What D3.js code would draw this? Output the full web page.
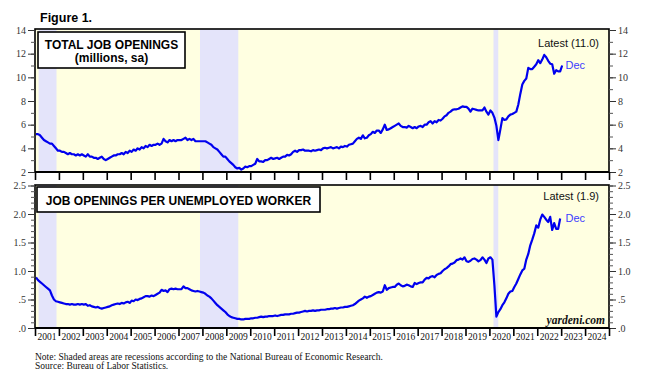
<!DOCTYPE html>
<html>
<head>
<meta charset="utf-8">
<script src="https://cdn.jsdelivr.net/npm/d3@7"></script>
<style>
  html, body { margin: 0; padding: 0; background: #ffffff; }
  svg { display: block; }
</style>
</head>
<body>
<svg id="chart" width="646" height="379"></svg>
<script>
// ---------------- DATA ----------------
// Monthly, Dec 2000 .. Dec 2022
const firstMonth = { year: 2000, month: 11 }; // December 2000 (0-based month)

// Total job openings, millions, sa
const openingsMillions = [
  5.2,
  5.2, 5.1, 4.9, 4.7, 4.6, 4.5, 4.4, 4.4, 4.2, 4.0, 3.8, 3.8,      // 2001
  3.7, 3.7, 3.6, 3.5, 3.6, 3.5, 3.5, 3.4, 3.5, 3.4, 3.5, 3.4,      // 2002
  3.3, 3.5, 3.3, 3.3, 3.2, 3.2, 3.1, 3.2, 3.3, 3.1, 3.0, 3.1,      // 2003
  3.2, 3.3, 3.4, 3.4, 3.5, 3.5, 3.6, 3.5, 3.7, 3.6, 3.8, 3.7,      // 2004
  3.9, 3.8, 4.0, 3.9, 4.1, 4.0, 4.2, 4.1, 4.3, 4.2, 4.3, 4.3,      // 2005
  4.4, 4.3, 4.4, 4.8, 4.6, 4.5, 4.7, 4.6, 4.7, 4.6, 4.7, 4.7,      // 2006
  4.7, 4.8, 4.9, 4.7, 4.8, 4.7, 4.8, 4.6, 4.6, 4.6, 4.6, 4.6,      // 2007
  4.6, 4.5, 4.4, 4.3, 4.1, 4.0, 3.9, 3.7, 3.5, 3.3, 3.3, 3.1,      // 2008
  2.9, 2.75, 2.6, 2.4, 2.3, 2.35, 2.2, 2.3, 2.45, 2.4, 2.5, 2.5,   // 2009
  2.6, 2.7, 3.1, 2.9, 2.9, 2.85, 3.0, 3.0, 3.1, 3.2, 3.1, 3.15,    // 2010
  3.2, 3.1, 3.2, 3.3, 3.3, 3.45, 3.4, 3.5, 3.7, 3.8, 3.7, 3.85,    // 2011
  3.85, 3.9, 3.8, 3.8, 3.8, 3.75, 3.85, 3.8, 3.85, 3.9, 3.85, 4.0, // 2012
  4.05, 4.0, 4.05, 4.1, 4.0, 4.05, 4.1, 4.0, 4.15, 4.1, 4.2, 4.15, // 2013
  4.3, 4.35, 4.4, 4.6, 4.8, 4.9, 4.8, 5.1, 4.85, 4.9, 5.1, 5.2,    // 2014
  5.4, 5.3, 5.5, 5.5, 5.3, 5.6, 6.0, 5.55, 5.6, 5.7, 5.8, 5.9,     // 2015
  6.0, 6.1, 5.9, 5.8, 5.8, 5.75, 5.9, 5.8, 5.7, 5.8, 5.7, 5.85,    // 2016
  5.9, 5.8, 6.0, 6.0, 6.2, 6.3, 6.1, 6.3, 6.2, 6.4, 6.35, 6.5,     // 2017
  6.7, 6.8, 7.0, 7.1, 7.25, 7.3, 7.3, 7.35, 7.45, 7.55, 7.5, 7.5,  // 2018
  7.35, 7.1, 7.35, 7.3, 7.25, 7.2, 7.2, 7.2, 7.45, 7.1, 6.85, 7.2, // 2019
  7.0, 6.6, 5.9, 4.7, 5.6, 6.55, 6.4, 6.45, 6.7, 6.85, 6.9, 7.0,   // 2020
  7.1, 7.7, 8.6, 9.4, 9.7, 9.9, 10.8, 10.7, 10.7, 10.9, 11.1, 11.45, // 2021
  11.2, 11.5, 11.9, 11.7, 11.4, 11.15, 11.1, 10.3, 10.6, 10.5, 10.5, 11.0 // 2022
];

// Job openings per unemployed worker
const openingsPerUnemployed = [
  0.89,
  0.84, 0.81, 0.78, 0.75, 0.72, 0.69, 0.66, 0.57, 0.50, 0.47, 0.46, 0.45, // 2001
  0.44, 0.43, 0.42, 0.42, 0.41, 0.42, 0.41, 0.41, 0.42, 0.41, 0.42, 0.41, // 2002
  0.42, 0.39, 0.40, 0.38, 0.37, 0.36, 0.37, 0.35, 0.34, 0.35, 0.36, 0.37, // 2003
  0.38, 0.40, 0.41, 0.42, 0.43, 0.42, 0.44, 0.43, 0.45, 0.46, 0.44, 0.48, // 2004
  0.47, 0.50, 0.49, 0.51, 0.52, 0.54, 0.56, 0.56, 0.55, 0.57, 0.56, 0.58, // 2005
  0.60, 0.62, 0.67, 0.65, 0.66, 0.63, 0.68, 0.69, 0.68, 0.69, 0.68, 0.68, // 2006
  0.68, 0.73, 0.70, 0.70, 0.68, 0.66, 0.65, 0.64, 0.65, 0.64, 0.63, 0.62, // 2007
  0.60, 0.57, 0.55, 0.52, 0.48, 0.44, 0.40, 0.37, 0.34, 0.31, 0.28, 0.24, // 2008
  0.21, 0.19, 0.18, 0.17, 0.16, 0.16, 0.15, 0.15, 0.16, 0.16, 0.16, 0.17, // 2009
  0.17, 0.18, 0.18, 0.19, 0.20, 0.19, 0.20, 0.20, 0.21, 0.21, 0.21, 0.22, // 2010
  0.21, 0.22, 0.23, 0.23, 0.24, 0.24, 0.24, 0.25, 0.25, 0.26, 0.27, 0.27, // 2011
  0.28, 0.29, 0.30, 0.29, 0.30, 0.30, 0.31, 0.30, 0.31, 0.31, 0.32, 0.32, // 2012
  0.32, 0.33, 0.33, 0.34, 0.34, 0.35, 0.34, 0.35, 0.36, 0.36, 0.37, 0.37, // 2013
  0.38, 0.39, 0.40, 0.42, 0.45, 0.48, 0.50, 0.52, 0.55, 0.53, 0.55, 0.56, // 2014
  0.58, 0.60, 0.62, 0.63, 0.62, 0.64, 0.75, 0.67, 0.70, 0.71, 0.72, 0.72, // 2015
  0.76, 0.78, 0.75, 0.73, 0.74, 0.76, 0.75, 0.73, 0.72, 0.79, 0.77, 0.79, // 2016
  0.80, 0.80, 0.85, 0.88, 0.87, 0.90, 0.91, 0.89, 0.93, 0.95, 0.96, 1.00, // 2017
  1.03, 1.05, 1.08, 1.12, 1.13, 1.15, 1.19, 1.20, 1.22, 1.20, 1.24, 1.17, // 2018
  1.16, 1.18, 1.21, 1.22, 1.20, 1.17, 1.19, 1.24, 1.20, 1.14, 1.22, 1.24, // 2019
  1.20, 0.75, 0.20, 0.28, 0.33, 0.40, 0.45, 0.52, 0.60, 0.64, 0.65, 0.72, // 2020
  0.78, 0.86, 0.94, 1.01, 1.04, 1.20, 1.30, 1.45, 1.55, 1.66, 1.80, 1.76, // 2021
  1.90, 1.99, 1.95, 1.90, 1.86, 1.95, 1.72, 1.84, 1.74, 1.74, 1.92        // 2022
];

// NBER recessions (decimal years)
const recessionStart = [2001.15, 2007.9, 2020.17];
const recessionEnd   = [2001.9, 2009.5, 2020.37];

const yearLabels = d3.range(2001, 2025).map(String);
const topTicks = [2, 4, 6, 8, 10, 12, 14];
const bottomTicks = [0, 0.5, 1.0, 1.5, 2.0, 2.5];
const bottomTickLabels = [".0", ".5", "1.0", "1.5", "2.0", "2.5"];

// ---------------- LAYOUT ----------------
const svg = d3.select("#chart");
const L = 35, R = 609;
const top1 = { y0: 29, y1: 172 };
const top2 = { y0: 185, y1: 328 };

const x = d3.scaleLinear().domain([2001, 2025]).range([L, R]);
const yTop = d3.scaleLinear().domain([2, 14]).range([top1.y1, 30]);
const yBot = d3.scaleLinear().domain([0, 2.5]).range([top2.y1, 185.5]);

const dateOf = i => firstMonth.year + (firstMonth.month + i + 1.5) / 12;

const serif = "'Liberation Serif', 'Times New Roman', serif";
const sans = "'Liberation Sans', Arial, sans-serif";
const bg = "#ffffe1";
const recFill = "#e4e4fa";
const lineColor = "#0000ee";

function panel(p, y, ticks, tickLabels, minorStep, data, cfg) {
  const g = svg.append("g");
  g.append("rect").attr("x", L).attr("y", p.y0).attr("width", R - L).attr("height", p.y1 - p.y0).attr("fill", bg);
  const rec = recessionStart.map((s, i) => ({ s, e: recessionEnd[i] }));
  g.selectAll("rect.rec").data(rec).join("rect").attr("class", "rec")
    .attr("x", d => x(d.s)).attr("width", d => x(d.e) - x(d.s))
    .attr("y", p.y0).attr("height", p.y1 - p.y0).attr("fill", recFill);

  const cid = "clip" + p.y0;
  svg.append("clipPath").attr("id", cid).append("rect")
    .attr("x", L).attr("y", p.y0).attr("width", R - L).attr("height", p.y1 - p.y0);

  const line = d3.line().x((d, i) => x(dateOf(i))).y(d => y(d));
  g.append("path").datum(data).attr("clip-path", `url(#${cid})`)
    .attr("d", line).attr("fill", "none").attr("stroke", lineColor)
    .attr("stroke-width", 2.2).attr("stroke-linejoin", "round");

  g.append("rect").attr("x", L).attr("y", p.y0).attr("width", R - L).attr("height", p.y1 - p.y0)
    .attr("fill", "none").attr("stroke", "#000").attr("stroke-width", 1.6);
  g.append("line").attr("x1", L).attr("x2", R).attr("y1", p.y1).attr("y2", p.y1)
    .attr("stroke", "#000").attr("stroke-width", 2.2);

  const fmt = (d, i) => tickLabels[i];
  const dom = y.domain();
  const minor = d3.range(dom[0], dom[1] + 1e-9, minorStep);
  const yl = d3.axisLeft(y).tickValues(ticks).tickFormat(fmt).tickSize(7).tickPadding(2);
  const yr = d3.axisRight(y).tickValues(ticks).tickFormat(fmt).tickSize(7).tickPadding(2);
  const ylm = d3.axisLeft(y).tickValues(minor).tickFormat("").tickSize(4);
  const yrm = d3.axisRight(y).tickValues(minor).tickFormat("").tickSize(4);
  [[ylm, L], [yrm, R]].forEach(([a, px]) => {
    const ga = svg.append("g").attr("transform", `translate(${px},0)`).call(a);
    ga.select(".domain").remove();
    ga.selectAll("line").attr("stroke", "#555");
  });
  [[yl, L], [yr, R]].forEach(([a, px]) => {
    const ga = svg.append("g").attr("transform", `translate(${px},0)`).call(a);
    ga.select(".domain").remove();
    ga.selectAll("line").attr("stroke", "#333");
    ga.selectAll("text").attr("font-family", serif).attr("font-size", "10px").attr("fill", "#333");
  });

  const xa = d3.axisBottom(x).tickValues(d3.range(2001, 2026)).tickFormat("").tickSize(8);
  const gx = svg.append("g").attr("transform", `translate(0,${p.y1})`).call(xa);
  gx.select(".domain").remove();
  gx.selectAll("line").attr("stroke", "#000").attr("stroke-width", 1.6);

  const tb = svg.append("g");
  tb.append("rect").attr("x", cfg.box[0]).attr("y", cfg.box[1]).attr("width", cfg.box[2]).attr("height", cfg.box[3])
    .attr("fill", "#fff").attr("stroke", "#000").attr("stroke-width", 1.6);
  cfg.title.forEach((t, i) => {
    tb.append("text").attr("x", cfg.box[0] + cfg.box[2] / 2).attr("y", cfg.titleY[i])
      .attr("text-anchor", "middle").attr("font-family", sans).attr("font-weight", "bold")
      .attr("font-size", "12px").attr("fill", "#000").text(t);
  });
  svg.append("text").attr("x", 599).attr("y", cfg.latestY).attr("text-anchor", "end")
    .attr("font-family", sans).attr("font-size", "11px").attr("fill", "#111").text(cfg.latest);
  svg.append("text").attr("x", 565.5).attr("y", cfg.decY)
    .attr("font-family", sans).attr("font-size", "11px").attr("fill", "#3c3cff").text("Dec");
}

panel(top1, yTop, topTicks, topTicks.map(String), 1, openingsMillions, {
  box: [38, 32, 147, 36], title: ["TOTAL JOB OPENINGS", "(millions, sa)"], titleY: [48.5, 61.5],
  latest: "Latest (11.0)", latestY: 47, decY: 69
});
panel(top2, yBot, bottomTicks, bottomTickLabels, 0.1, openingsPerUnemployed, {
  box: [37, 187, 283, 25], title: ["JOB OPENINGS PER UNEMPLOYED WORKER"], titleY: [204.5],
  latest: "Latest (1.9)", latestY: 200, decY: 222
});

svg.append("g").selectAll("text").data(yearLabels).join("text")
  .attr("x", d => x(+d + 0.5)).attr("y", 339.5).attr("text-anchor", "middle")
  .attr("font-family", serif).attr("font-size", "9.5px").attr("fill", "#111").text(d => d);

svg.append("text").attr("x", 40).attr("y", 22).attr("font-family", sans).attr("font-weight", "bold")
  .attr("font-size", "12.5px").attr("fill", "#000").text("Figure 1.");

svg.append("text").attr("x", 605).attr("y", 324).attr("text-anchor", "end")
  .attr("font-family", serif).attr("font-weight", "bold").attr("font-style", "italic")
  .attr("font-size", "11.5px").attr("fill", "#111").text("yardeni.com");

svg.append("text").attr("x", 35).attr("y", 359.5).attr("font-family", serif).attr("font-size", "9.5px")
  .attr("fill", "#111").text("Note: Shaded areas are recessions according to the National Bureau of Economic Research.");
svg.append("text").attr("x", 35).attr("y", 368.5).attr("font-family", serif).attr("font-size", "9.5px")
  .attr("fill", "#111").text("Source: Bureau of Labor Statistics.");
</script>
</body>
</html>
